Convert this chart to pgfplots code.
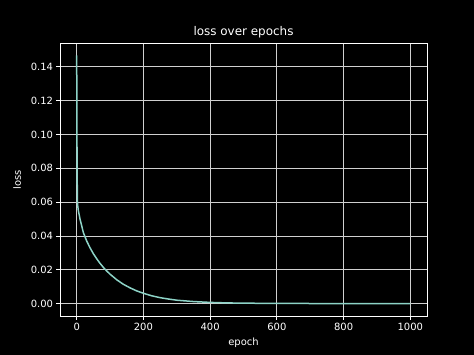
\documentclass[border=0pt]{standalone}
\usepackage{fontspec}
\setmainfont{DejaVu Sans}
\usepackage{pgfplots}
\pgfplotsset{compat=1.18}
\definecolor{line1}{HTML}{8DD3C7}
\definecolor{gridc}{HTML}{D0D0D0}
\begin{document}
\begin{tikzpicture}
\fill[black] (0,0) rectangle (474bp,355bp);
\begin{axis}[
  at={(60bp,39bp)}, anchor=south west,
  scale only axis, width=367bp, height=273bp,
  xmin=-50, xmax=1050, ymin=-0.00734, ymax=0.1541,
  xtick={0,200,400,600,800,1000},
  ytick={0,0.02,0.04,0.06,0.08,0.10,0.12,0.14},
  scaled y ticks=false,
  /pgf/number format/assume math mode=true,
  xticklabel style={/pgf/number format/1000 sep={}},
  yticklabel style={/pgf/number format/.cd, fixed, fixed zerofill, precision=2},
  tick label style={font=\fontsize{10}{12}\selectfont, text=white},
  label style={font=\fontsize{10}{12}\selectfont, text=white},
  ylabel style={yshift=3bp},
  xlabel style={yshift=-1bp},
  title style={font=\fontsize{12}{14}\selectfont, text=white, yshift=-4bp},
  title={loss over epochs},
  xlabel={epoch}, ylabel={loss},
  axis line style={white, line width=0.8bp},
  tick style={white, line width=0.8bp},
  tick align=outside, major tick length=3.5bp,
  tick pos=left,
  grid=major,
  major grid style={gridc, line width=0.8bp},
  axis background/.style={fill=black},
]
\addplot[line1, line width=1.5bp] coordinates {
(0,0.1468) (1,0.090) (2,0.062) (3,0.058) (5,0.055) (10,0.050) (15,0.046)
(20,0.042) (30,0.037) (40,0.033) (50,0.0295) (60,0.0265) (70,0.0238)
(80,0.0214) (90,0.0193) (100,0.0174) (120,0.0141) (140,0.0114) (160,0.0093)
(180,0.0075) (200,0.0061) (225,0.0046) (250,0.0035) (275,0.0027) (300,0.0020)
(350,0.0012) (400,0.0007) (450,0.0004) (500,0.00025) (600,0.0001)
(700,0.00005) (800,0.00003) (1000,0.00001)
};
\end{axis}
\end{tikzpicture}
\end{document}
